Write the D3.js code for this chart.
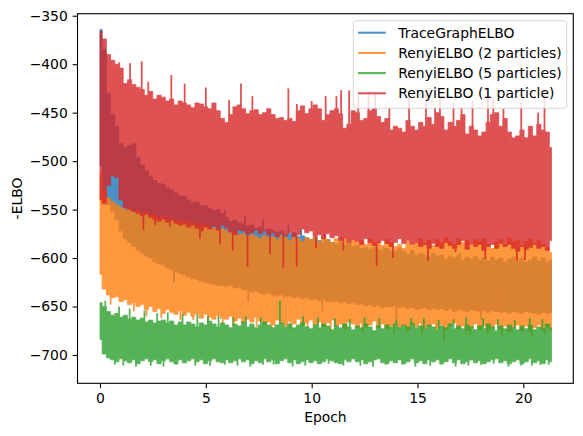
<!DOCTYPE html>
<html>
<head>
<meta charset="utf-8">
<script src="https://cdn.jsdelivr.net/npm/d3@7"></script>
<style>
  body { margin: 0; background: #fff; }
  text { font-family: "DejaVu Sans", sans-serif; }
</style>
</head>
<body>
<svg id="chart"></svg>
<script>
// noisy -ELBO traces, read off the plot as an upper / lower envelope per
// sample plus the narrow spikes that stick out of the band ([epoch, value])
const lastEpoch = 21.33;

const traceHi = [-364,-385,-430,-452,-464,-482,-486,-484,-482,-496,
  -504,-510,-516,-520,-523,-524,-528,-530,-533,-536,
  -536,-540,-543,-542,-546,-546,-549,-551,-550,-554,
  -558,-562,-561,-564,-565,-567,-566,-569,-568,-571,
  -570,-572,-574,-572,-576,-575,-574,-578,-577,-579,
  -581,-579,-582,-584,-581,-584,-586,-584,-587,-585,
  -588,-587,-590,-589,-591,-589,-591,-593,-590,-593,
  -593,-590,-593,-596,-592,-597,-595,-597,-599,-595,
  -598,-597,-601,-598,-600,-597,-602,-599,-601,-598,
  -602,-600,-603,-599,-602,-600,-604,-601,-599,-603,
  -600,-604,-602,-599,-603,-600,-604,-602];
const traceLo = [-505,-535,-545,-552,-560,-572,-580,-584,-588,-592,
  -595,-598,-600,-604,-606,-607,-610,-612,-614,-616,
  -617,-619,-621,-622,-624,-625,-626,-627,-628,-628,
  -629,-628,-631,-630,-633,-632,-635,-634,-636,-637,
  -636,-638,-639,-638,-640,-639,-641,-640,-642,-641,
  -643,-642,-644,-643,-645,-645,-644,-646,-645,-647,
  -646,-648,-647,-649,-648,-650,-649,-651,-650,-650,
  -649,-651,-650,-652,-651,-653,-652,-651,-653,-652,
  -653,-652,-654,-652,-655,-653,-654,-655,-653,-654,
  -655,-654,-656,-654,-655,-656,-655,-657,-655,-656,
  -657,-655,-656,-657,-658,-656,-657,-656];
const tracePeaks = [[5.9,-550],[6.85,-556],[7.7,-560],[8.9,-566],[9.5,-570],
  [10.6,-575],[11.4,-578],[13.4,-588],[14.2,-592],[17.0,-594]];
const traceDips = [[3.5,-625],[7.0,-645],[10.5,-655],[14.0,-662],[18.0,-664]];

const renyi2Hi = [-512,-530,-538,-542,-545,-548,-550,-549,-552,-551,
  -554,-553,-556,-555,-558,-557,-560,-559,-562,-561,
  -563,-562,-565,-564,-566,-566,-568,-569,-571,-570,
  -572,-574,-573,-576,-575,-578,-576,-578,-580,-577,
  -579,-578,-581,-577,-579,-582,-578,-580,-583,-579,
  -581,-579,-583,-578,-581,-584,-580,-582,-579,-585,
  -581,-584,-582,-586,-580,-584,-583,-587,-581,-584,
  -588,-586,-590,-583,-587,-584,-580,-585,-582,-587,
  -581,-584,-579,-583,-586,-580,-584,-582,-587,-581,
  -583,-580,-586,-590,-583,-581,-586,-579,-583,-582,
  -587,-583,-580,-585,-582,-586,-589,-594];
const renyi2Lo = [-617,-632,-638,-641,-640,-645,-643,-648,-646,-650,
  -648,-653,-650,-655,-652,-657,-653,-656,-658,-654,
  -659,-656,-660,-657,-662,-658,-661,-663,-659,-662,
  -663,-660,-665,-662,-667,-663,-666,-661,-665,-668,
  -666,-669,-664,-667,-670,-665,-668,-663,-669,-667,
  -664,-669,-666,-671,-667,-664,-670,-668,-672,-666,
  -668,-672,-667,-671,-669,-665,-672,-668,-673,-670,
  -667,-672,-669,-674,-668,-671,-667,-673,-670,-668,
  -673,-669,-674,-670,-667,-673,-670,-675,-671,-668,
  -674,-670,-675,-671,-668,-674,-670,-676,-672,-669,
  -675,-670,-676,-672,-669,-674,-671,-674];
const renyi2Peaks = [];
const renyi2Dips = [[0.5,-648],[1.6,-655],[2.2,-660],[2.9,-662],[3.8,-664],[4.4,-664],
  [5.1,-666],[5.8,-668],[6.3,-670],[7.4,-671],[8.1,-672],[9.0,-674],[9.8,-672],
  [10.9,-675],[11.6,-674],[12.4,-676],[13.9,-678],[14.5,-676],[15.2,-679],
  [16.25,-686],[17.5,-679],[18.3,-678],[19.0,-680],[20.4,-681],[21.0,-678]];

const renyi5Hi = [-646,-650,-655,-659,-657,-661,-659,-663,-661,-664,
  -662,-666,-664,-667,-665,-664,-667,-665,-669,-666,
  -669,-666,-668,-671,-667,-669,-665,-668,-671,-667,
  -669,-672,-668,-670,-666,-671,-668,-672,-669,-666,
  -669,-672,-669,-667,-671,-668,-672,-669,-667,-671,
  -673,-669,-672,-668,-670,-674,-670,-672,-668,-671,
  -674,-670,-672,-668,-671,-675,-670,-673,-669,-671,
  -668,-672,-669,-671,-667,-672,-670,-673,-669,-671,
  -674,-670,-672,-668,-673,-670,-673,-669,-671,-674,
  -670,-673,-668,-671,-675,-670,-673,-669,-672,-674,
  -670,-673,-669,-674,-671,-673,-668,-672];
const renyi5Lo = [-684,-699,-703,-705,-707,-704,-706,-708,-705,-709,
  -706,-704,-707,-705,-709,-706,-704,-707,-709,-705,
  -708,-706,-704,-707,-705,-709,-706,-704,-707,-708,
  -705,-708,-706,-704,-707,-705,-709,-706,-708,-704,
  -707,-705,-709,-706,-704,-708,-705,-709,-707,-705,
  -708,-706,-709,-707,-704,-706,-708,-709,-705,-707,
  -704,-707,-705,-709,-707,-705,-704,-708,-709,-706,
  -708,-705,-709,-707,-704,-708,-706,-709,-705,-707,
  -705,-709,-707,-704,-708,-705,-709,-707,-705,-708,
  -706,-709,-707,-705,-704,-708,-706,-709,-707,-705,
  -709,-707,-704,-708,-706,-709,-705,-707];
const renyi5Peaks = [[0.25,-644],[0.9,-650],[1.4,-652],[2.1,-654],[2.7,-657],[3.2,-656],
  [3.9,-658],[4.6,-657],[5.1,-660],[5.6,-659],[6.3,-661],[6.9,-660],[7.6,-661],
  [8.5,-644],[9.6,-660],[10.3,-661],[11.1,-662],[11.8,-663],[12.5,-661],[13.2,-662],
  [14.0,-663],[14.7,-662],[15.3,-662],[16.0,-664],[16.7,-663],[17.3,-661],
  [18.1,-662],[18.8,-663],[19.6,-664],[20.3,-662],[20.9,-663]];
const renyi5Dips = [[0.7,-710],[1.1,-711],[1.7,-712],[2.4,-711],[3.0,-712],[3.6,-710],
  [4.5,-711],[5.2,-711],[5.9,-710],[6.5,-711],[7.1,-712],[7.7,-710],[8.2,-710],
  [9.1,-712],[9.7,-711],[10.8,-709],[11.5,-711],[12.3,-711],[12.9,-712],[13.5,-710],
  [14.3,-710],[14.9,-712],[15.6,-711],[16.1,-710],[16.8,-712],[17.4,-711],
  [18.0,-710],[18.6,-709],[19.3,-712],[19.9,-711],[20.4,-711],[20.8,-710],[21.2,-710]];

const renyi1Hi = [-366,-374,-390,-396,-400,-404,-420,-416,-421,-424,
  -426,-432,-428,-436,-432,-434,-438,-436,-442,-438,
  -440,-442,-445,-440,-441,-444,-446,-440,-448,-456,
  -460,-452,-444,-442,-446,-451,-448,-447,-452,-450,
  -446,-452,-456,-455,-458,-456,-459,-448,-443,-451,
  -446,-442,-446,-458,-452,-448,-446,-451,-466,-462,
  -448,-450,-458,-456,-448,-446,-454,-460,-456,-468,
  -464,-466,-470,-458,-464,-468,-460,-464,-455,-462,
  -450,-454,-468,-460,-464,-458,-452,-472,-464,-468,
  -474,-470,-460,-452,-450,-464,-456,-470,-476,-474,
  -468,-476,-464,-474,-462,-468,-470,-486];
const renyi1Lo = [-540,-544,-525,-515,-517,-540,-548,-550,-552,-554,
  -556,-555,-558,-560,-562,-560,-563,-561,-564,-566,
  -565,-568,-566,-569,-572,-568,-570,-567,-571,-566,
  -569,-573,-576,-571,-572,-575,-574,-571,-575,-572,
  -576,-574,-578,-575,-577,-574,-578,-576,-570,-574,
  -572,-578,-576,-580,-575,-579,-577,-582,-579,-584,
  -581,-583,-586,-580,-584,-587,-584,-582,-585,-588,
  -584,-580,-585,-582,-586,-584,-588,-586,-590,-585,
  -588,-590,-584,-587,-590,-586,-582,-591,-586,-588,
  -586,-592,-588,-586,-590,-585,-588,-586,-590,-593,
  -588,-591,-589,-586,-590,-588,-592,-582];
const renyi1Peaks = [[0.91,-398],[1.42,-399],[1.97,-397],[2.28,-418],[3.37,-411],[4.0,-420],
  [5.0,-424],[6.1,-437],[6.66,-420],[7.2,-433],[8.9,-425],[9.3,-441],[10.0,-438],
  [10.66,-433],[11.17,-433],[11.39,-427],[11.77,-427],[12.2,-432],[12.68,-428],
  [13.0,-430],[13.67,-445],[14.6,-435],[15.4,-432],[15.83,-444],[16.06,-436],
  [16.7,-440],[17.08,-444],[17.6,-438],[18.33,-428],[18.58,-436],[19.06,-446],
  [19.9,-440],[20.7,-450],[21.0,-426]];
const renyi1Dips = [[2.05,-571],[2.6,-566],[3.3,-568],[4.72,-580],[5.67,-586],[6.27,-592],
  [6.97,-609],[8.03,-596],[8.66,-610],[9.29,-609],[10.2,-590],[11.5,-592],
  [13.07,-608],[13.84,-600],[15.5,-603],[16.8,-594],[18.2,-601],[19.7,-603],[20.08,-602]];

const seriesNames = ["TraceGraphELBO", "RenyiELBO (2 particles)", "RenyiELBO (5 particles)", "RenyiELBO (1 particle)"];
const seriesColors = ["#1f77b4", "#ff7f0e", "#2ca02c", "#d62728"];
const xTicks = [0, 5, 10, 15, 20];
const yTicks = [-700, -650, -600, -550, -500, -450, -400, -350];

const series = [
  { hi: traceHi, lo: traceLo, peaks: tracePeaks, dips: traceDips },
  { hi: renyi2Hi, lo: renyi2Lo, peaks: renyi2Peaks, dips: renyi2Dips },
  { hi: renyi5Hi, lo: renyi5Lo, peaks: renyi5Peaks, dips: renyi5Dips },
  { hi: renyi1Hi, lo: renyi1Lo, peaks: renyi1Peaks, dips: renyi1Dips }
].map((s, k) => ({ ...s, name: seriesNames[k], color: seriesColors[k] }));

const width = 583, height = 436;
const plot = { left: 77.5, right: 573.3, top: 13.7, bottom: 383.3 };
const fontSize = 13.9;

const svg = d3.select("#chart")
  .attr("width", width)
  .attr("height", height)
  .attr("viewBox", `0 0 ${width} ${height}`);

const x = d3.scaleLinear().domain([-1.063, 22.36]).range([plot.left, plot.right]);
const y = d3.scaleLinear().domain([-729.2, -347.9]).range([plot.bottom, plot.top]);

svg.append("defs").append("clipPath").attr("id", "clip")
  .append("rect")
  .attr("x", plot.left).attr("y", plot.top)
  .attr("width", plot.right - plot.left).attr("height", plot.bottom - plot.top);

const plotArea = svg.append("g").attr("clip-path", "url(#clip)");

// one group per trace with alpha 0.8, so overlaps composite like the original
series.forEach(s => {
  const n = s.hi.length;
  const step = lastEpoch / (n - 1);
  const pts = s.hi.map((h, i) => ({ e: i * step, hi: h, lo: s.lo[i] }));
  const mid = e => {
    const p = pts[Math.max(0, Math.min(n - 1, Math.round(e / step)))];
    return (p.hi + p.lo) / 2;
  };

  const band = d3.area()
    .curve(d3.curveStep)
    .x(d => x(d.e))
    .y0(d => y(d.lo))
    .y1(d => y(d.hi));

  const g = plotArea.append("g").attr("opacity", 0.8);
  g.append("path")
    .datum(pts)
    .attr("d", band)
    .attr("fill", s.color)
    .attr("stroke", s.color)
    .attr("stroke-width", 0.8);

  g.selectAll("line.spike")
    .data(s.peaks.concat(s.dips))
    .enter()
    .append("line")
    .attr("class", "spike")
    .attr("x1", d => x(d[0])).attr("x2", d => x(d[0]))
    .attr("y1", d => y(d[1]))
    .attr("y2", d => y(mid(d[0])))
    .attr("stroke", s.color)
    .attr("stroke-width", 1.8);
});

// axes
const xAxis = svg.append("g")
  .attr("transform", `translate(0,${plot.bottom})`)
  .call(d3.axisBottom(x).tickValues(xTicks).tickFormat(d3.format("d"))
    .tickSize(4.86).tickPadding(4.86));
const yAxis = svg.append("g")
  .attr("transform", `translate(${plot.left},0)`)
  .call(d3.axisLeft(y).tickValues(yTicks).tickFormat(d3.format("d"))
    .tickSize(4.86).tickPadding(4.86));

[xAxis, yAxis].forEach(a => {
  a.select(".domain").remove();
  a.selectAll(".tick line").attr("stroke", "#000").attr("stroke-width", 1.1);
  a.selectAll(".tick text")
    .attr("fill", "#000")
    .style("font-size", fontSize + "px")
    .style("font-family", "'DejaVu Sans', sans-serif");
});

// frame
svg.append("rect")
  .attr("x", plot.left).attr("y", plot.top)
  .attr("width", plot.right - plot.left).attr("height", plot.bottom - plot.top)
  .attr("fill", "none")
  .attr("stroke", "#000")
  .attr("stroke-width", 1.1);

// axis labels
svg.append("text")
  .attr("x", (plot.left + plot.right) / 2)
  .attr("y", 422)
  .attr("text-anchor", "middle")
  .style("font-size", fontSize + "px")
  .text("Epoch");

svg.append("text")
  .attr("transform", `translate(22,${(plot.top + plot.bottom) / 2}) rotate(-90)`)
  .attr("text-anchor", "middle")
  .style("font-size", fontSize + "px")
  .text("-ELBO");

// legend
const legend = svg.append("g");
legend.append("rect")
  .attr("x", 353.3).attr("y", 20.7)
  .attr("width", 213.4).attr("height", 87.6)
  .attr("rx", 2.8)
  .attr("fill", "#fff").attr("fill-opacity", 0.8)
  .attr("stroke", "#cccccc").attr("stroke-opacity", 0.8)
  .attr("stroke-width", 1);

const rows = legend.selectAll(".legend-row")
  .data(series)
  .enter()
  .append("g")
  .attr("class", "legend-row")
  .attr("transform", (d, i) => `translate(358,${32.7 + i * 20.2})`);

rows.append("line")
  .attr("x1", 0).attr("x2", 27.8)
  .attr("y1", 0).attr("y2", 0)
  .attr("stroke", d => d.color)
  .attr("stroke-opacity", 0.8)
  .attr("stroke-width", 2.08);

rows.append("text")
  .attr("x", 40.3)
  .attr("y", 5)
  .style("font-size", fontSize + "px")
  .attr("fill", "#000")
  .text(d => d.name);
</script>
</body>
</html>
